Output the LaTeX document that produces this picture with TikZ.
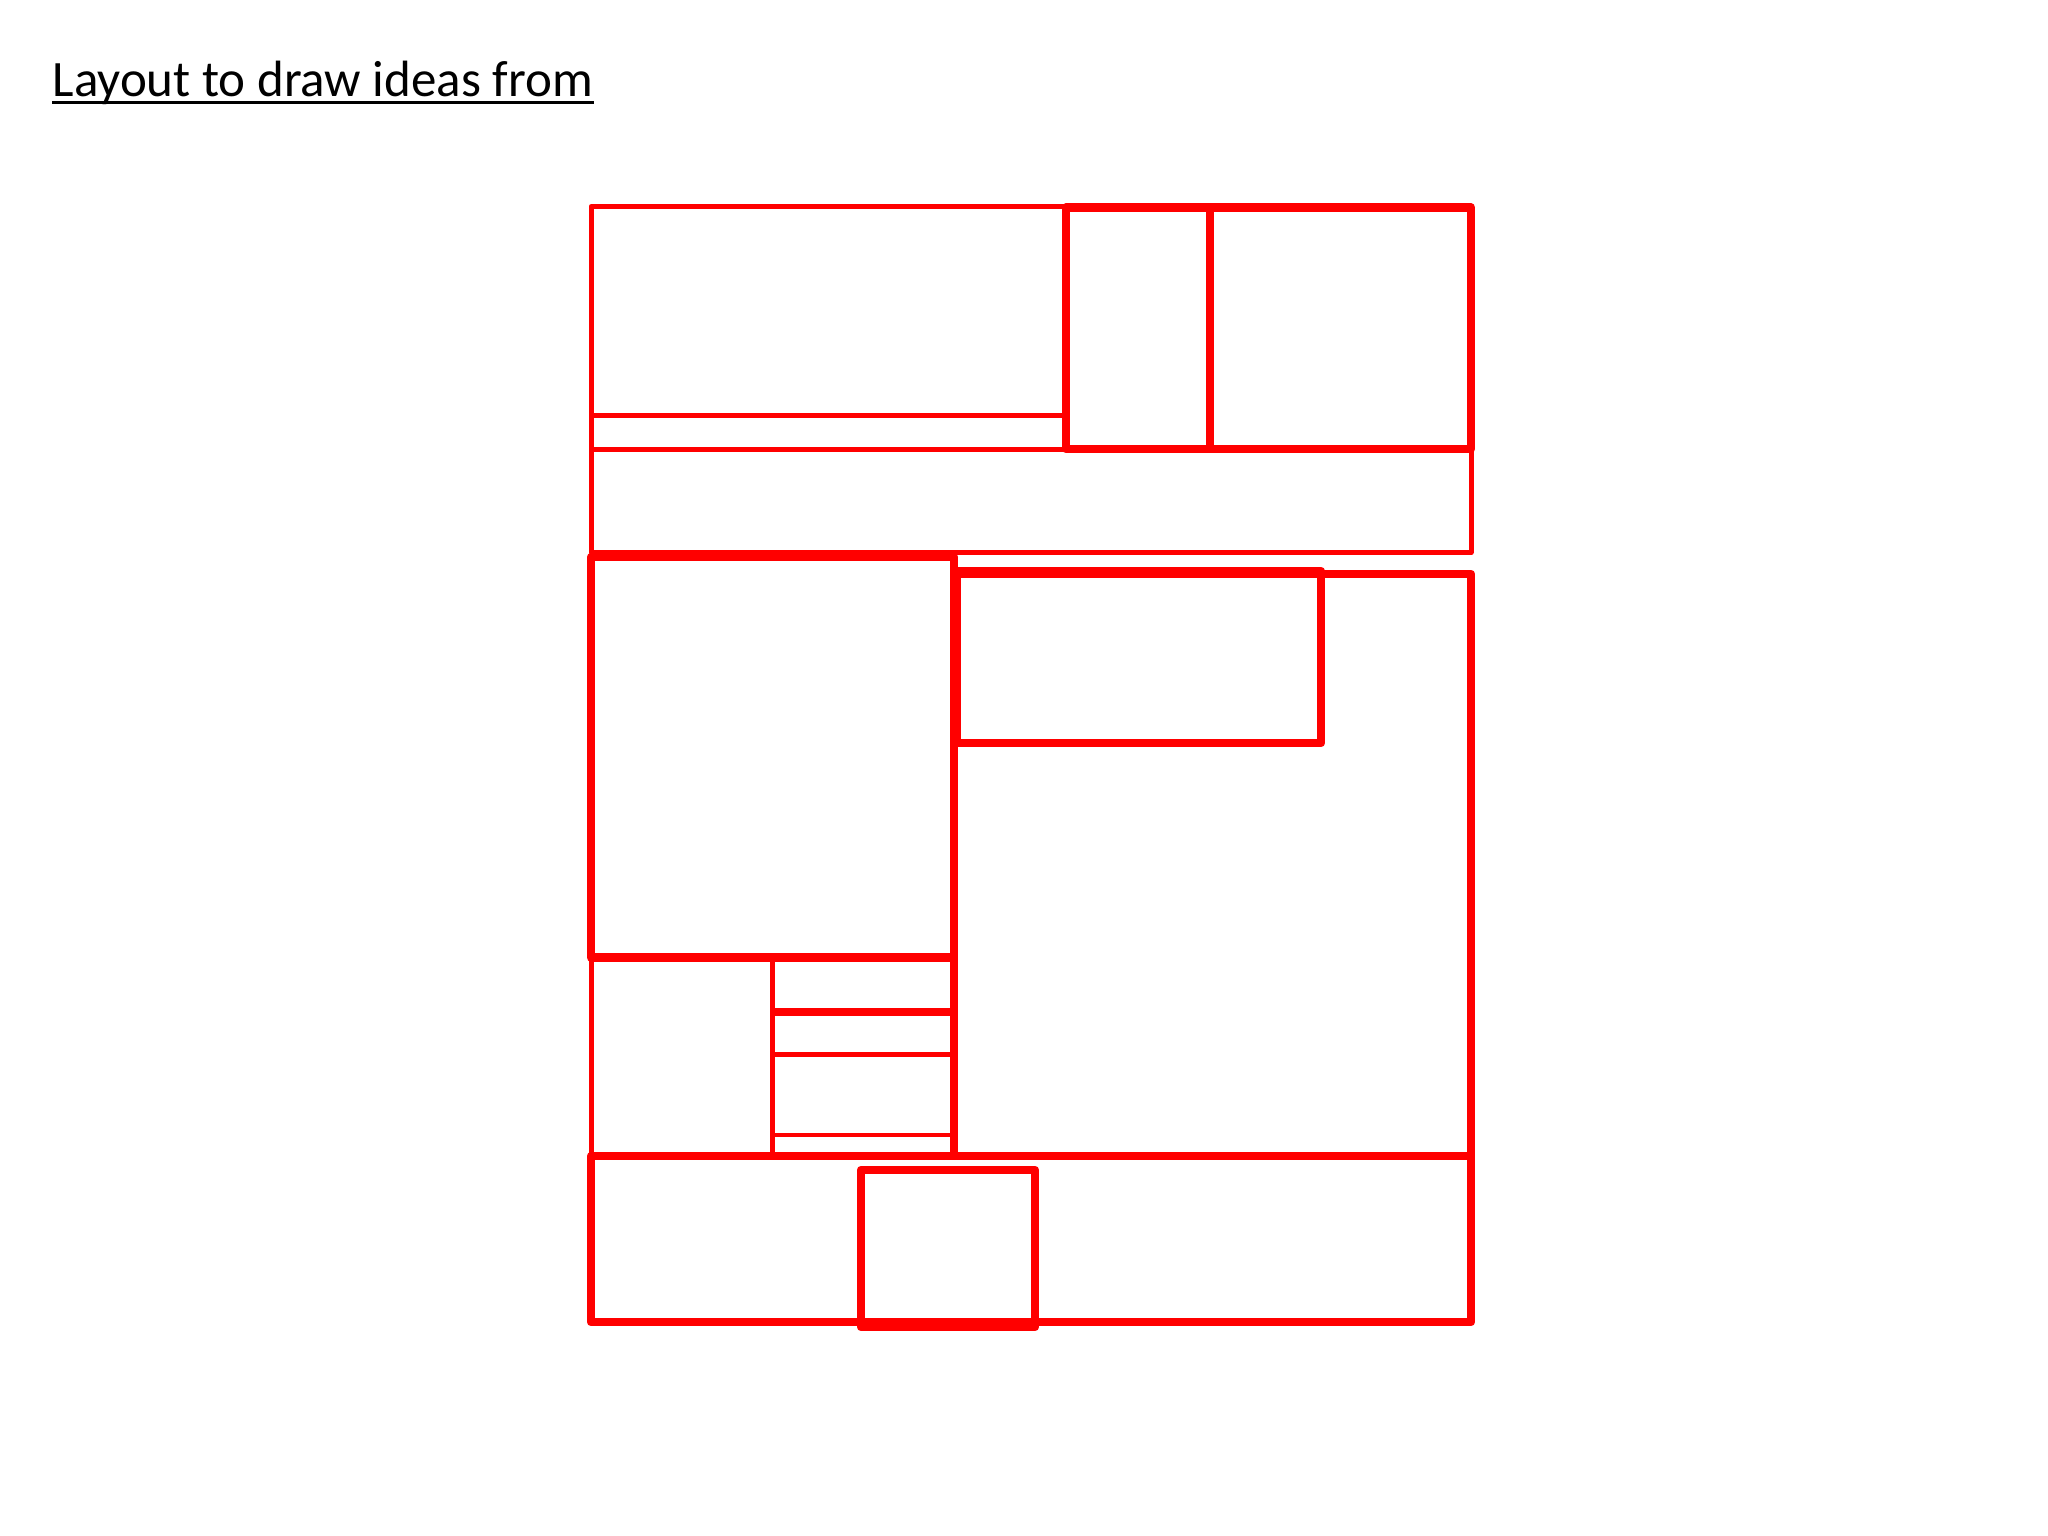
\documentclass[tikz,border=0pt]{standalone}
\usepackage{fontspec}
\setmainfont{Carlito}
\begin{document}
\begin{tikzpicture}[x=0.01cm,y=-0.01cm,
  thinbox/.style={draw=red, line width=1.42pt, line join=round},
  finebox/.style={draw=red, line width=1.25pt, line join=round},
  midbox/.style={draw=red, line width=2.2pt, line join=round},
  thickbox/.style={draw=red, line width=2.42pt, line join=round},
  titletext/.style={inner sep=0pt, anchor=base west, font=\fontsize{14.5}{17}\selectfont}]
\useasboundingbox (0,0) rectangle (2048,1536);
% title
\node[titletext] (title) at (52,96) {Layout to draw ideas from};
\draw[line width=0.85pt] ([yshift=-0.065cm]title.base west) -- ([yshift=-0.065cm]title.base east);
% upper thin part
\draw[thinbox] (591,206.5) rectangle (1064,415);
\draw[thinbox] (591,415) rectangle (1064,449);
\draw[thinbox] (591,449) rectangle (1471,552.5);
% lower-left small column
\draw[thinbox] (591,957.5) rectangle (772.5,1156);
\draw[thinbox] (772.5,957.5) rectangle (954,1156);
\draw[midbox] (772.5,1011.7) -- (954,1011.7);
\draw[finebox] (772.5,1054.5) -- (954,1054.5);
\draw[finebox] (772.5,1135) -- (954,1135);
% thick boxes
\draw[thickbox] (1066,207.5) rectangle (1210,449);
\draw[thickbox] (1210,207.5) rectangle (1471,449);
\draw[thickbox] (591,557) rectangle (954,957.5);
\draw[thickbox] (954,574) rectangle (1471,1156);
\draw[thickbox] (957,571) rectangle (1321,743);
\draw[thickbox] (591,1156) rectangle (1471,1322);
\draw[thickbox] (861,1170) rectangle (1035,1327);
\end{tikzpicture}
\end{document}
